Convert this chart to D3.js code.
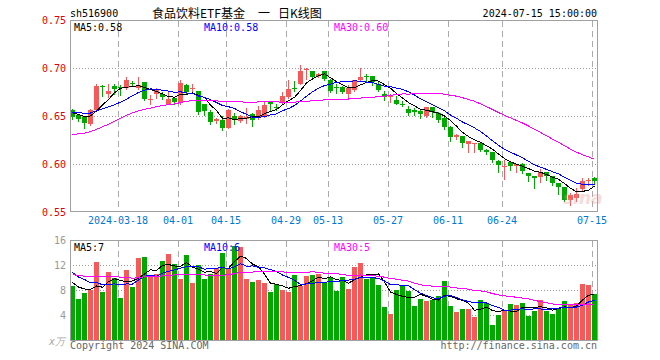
<!DOCTYPE html>
<html>
<head>
<meta charset="utf-8">
<script src="https://cdn.jsdelivr.net/npm/d3@7"></script>
<style>
body { margin: 0; background: #fff; }
svg { display: block; }
text { font-family: "DejaVu Sans Mono", "Liberation Mono", monospace; font-size: 10px; }
</style>
</head>
<body>
<svg id="chart" width="660" height="360"></svg>
<script>

var dates = [
  "2024-03-06","2024-03-07","2024-03-08","2024-03-11","2024-03-12","2024-03-13","2024-03-14","2024-03-15",
  "2024-03-18","2024-03-19","2024-03-20","2024-03-21","2024-03-22","2024-03-25","2024-03-26","2024-03-27",
  "2024-03-28","2024-03-29","2024-04-01","2024-04-02","2024-04-03","2024-04-08","2024-04-09","2024-04-10",
  "2024-04-11","2024-04-12","2024-04-15","2024-04-16","2024-04-17","2024-04-18","2024-04-19","2024-04-22",
  "2024-04-23","2024-04-24","2024-04-25","2024-04-26","2024-04-29","2024-04-30","2024-05-06","2024-05-07",
  "2024-05-08","2024-05-09","2024-05-10","2024-05-13","2024-05-14","2024-05-15","2024-05-16","2024-05-17",
  "2024-05-20","2024-05-21","2024-05-22","2024-05-23","2024-05-24","2024-05-27","2024-05-28","2024-05-29",
  "2024-05-30","2024-05-31","2024-06-03","2024-06-04","2024-06-05","2024-06-06","2024-06-07","2024-06-11",
  "2024-06-12","2024-06-13","2024-06-14","2024-06-17","2024-06-18","2024-06-19","2024-06-20","2024-06-21",
  "2024-06-24","2024-06-25","2024-06-26","2024-06-27","2024-06-28","2024-07-01","2024-07-02","2024-07-03",
  "2024-07-04","2024-07-05","2024-07-08","2024-07-09","2024-07-10","2024-07-11","2024-07-12","2024-07-15"
];

var open = [
  .656,.651,.649,.642,.656,.681,.673,.681,.680,.679,.684,.679,.685,.667,.673,.673,
  .663,.669,.664,.682,.678,.676,.662,.654,.645,.646,.638,.650,.645,.647,.652,.648,
  .650,.665,.659,.665,.670,.679,.683,.698,.697,.692,.697,.688,.680,.680,.673,.677,
  .688,.692,.692,.683,.673,.670,.667,.663,.657,.656,.655,.650,.659,.653,.648,.639,
  .628,.629,.621,.621,.622,.615,.612,.603,.597,.602,.598,.600,.591,.587,.586,.592,
  .588,.580,.576,.562,.565,.574,.582,.585
];
var high = [
  .657,.652,.650,.657,.683,.682,.683,.683,.682,.691,.686,.691,.685,.672,.679,.675,
  .675,.670,.688,.683,.683,.676,.663,.656,.648,.650,.657,.653,.651,.658,.653,.660,
  .665,.665,.663,.675,.687,.686,.703,.700,.697,.695,.697,.689,.683,.681,.682,.688,
  .700,.694,.692,.685,.676,.673,.671,.666,.660,.658,.656,.659,.659,.654,.649,.640,
  .631,.629,.624,.622,.623,.616,.612,.604,.604,.602,.600,.601,.591,.587,.595,.592,
  .588,.580,.576,.570,.575,.585,.585,.586
];
var low = [
  .647,.645,.638,.641,.655,.671,.670,.673,.672,.678,.681,.678,.667,.663,.669,.668,
  .662,.662,.663,.674,.674,.652,.651,.642,.643,.635,.637,.642,.644,.643,.640,.647,
  .649,.655,.656,.664,.669,.676,.683,.689,.691,.691,.687,.675,.674,.674,.670,.676,
  .687,.686,.682,.676,.667,.665,.662,.660,.651,.651,.648,.649,.649,.644,.636,.624,
  .626,.618,.612,.612,.614,.610,.602,.592,.584,.594,.592,.591,.582,.575,.581,.583,
  .578,.569,.561,.557,.561,.573,.578,.579
];
var close = [
  .649,.647,.643,.656,.681,.680,.676,.678,.679,.687,.683,.682,.668,.668,.677,.670,
  .668,.665,.684,.675,.679,.654,.655,.644,.647,.638,.656,.646,.650,.649,.646,.656,
  .661,.662,.658,.671,.678,.678,.697,.699,.691,.694,.689,.676,.679,.675,.679,.688,
  .691,.691,.685,.677,.670,.672,.663,.662,.653,.654,.652,.659,.654,.646,.639,.628,
  .630,.622,.624,.622,.615,.612,.604,.599,.598,.598,.600,.593,.587,.585,.592,.588,
  .580,.576,.562,.568,.569,.582,.583,.582
];
// 万
var volume = [
  8.64,6.56,7.52,8.00,12.48,7.68,10.88,9.97,6.72,11.20,8.48,13.12,13.28,10.08,10.60,12.64,
  13.76,12.16,9.76,13.60,9.12,12.00,9.76,10.56,11.52,13.92,11.60,15.10,14.90,9.76,9.33,9.60,
  9.12,7.68,8.90,8.00,7.68,10.40,8.70,10.24,10.40,10.56,9.12,10.13,7.89,10.13,8.21,11.73,
  12.37,9.81,10.13,8.80,5.33,4.21,8.00,8.59,7.89,5.49,6.61,6.29,6.45,7.09,9.49,5.49,
  4.53,5.01,5.01,3.73,6.45,5.97,2.45,4.05,4.85,5.81,5.65,5.97,3.89,4.69,6.45,4.69,
  4.16,5.01,6.29,5.65,5.97,9.01,8.85,7.41
];

// sessions before the window, only feed the moving averages
var earlierClose = [
  .612,.620,.615,.608,.600,.596,.590,.582,.594,.606,.618,.622,.628,.632,.636,.640,
  .644,.638,.642,.646,.650,.654,.652,.658,.660,.656,.654,.653,.655
];
var earlierVolume = [
  9.8,11.5,10.6,8.9,12.3,9.4,10.1,8.7,11.8,13.2,10.4,9.1,8.6,10.9,9.5,11.2,
  10.0,9.6,10.3,9.4,13.8,11.6,12.9,12.2,11.5,10.2,9.1,8.4,9.7
];

var priceTicks = [0.75, 0.70, 0.65, 0.60, 0.55];
var priceGrid = [0.70, 0.65, 0.60];
var volTicks = [16, 12, 8, 4];
var volGrid = [12, 8, 4];
var tickDates = ["2024-03-18","2024-04-01","2024-04-15","2024-04-29","2024-05-13","2024-05-27","2024-06-11","2024-06-24","2024-07-15"];
var tickLabels = ["2024-03-18","04-01","04-15","04-29","05-13","05-27","06-11","06-24","07-15"];

var maDays = [5, 10, 30];
var maColors = ["#000000", "#0000ff", "#ff00ff"];

var RED = "#f65959", GREEN = "#00a800", FRAME = "#a0a0a0";

function movingAvg(prev, vals, n) {
    var all = prev.concat(vals);
    return vals.map(function(v, i){
        var j = prev.length + i;
        return d3.sum(all.slice(j - n + 1, j + 1)) / n;
    });
}

var svg = d3.select("#chart");
var left = 70, right = 597;

var x = d3.scaleBand().domain(dates).range([left, left + 6 * dates.length]).paddingInner(0);
var bw = 5;
function cx(d){ return x(d) + 2.5; }

var yP = d3.scaleLinear().domain([0.55, 0.75]).range([212, 20]);
var yV = d3.scaleLinear().domain([0, 16]).range([340, 240]);

// ---------- grids ----------
function drawGrid(g, ys, top, bottom) {
    g.selectAll("line.h").data(ys).enter().append("line")
        .attr("x1", left).attr("x2", right)
        .attr("y1", function(d){ return Math.round(d) + 0.5; })
        .attr("y2", function(d){ return Math.round(d) + 0.5; })
        .style("stroke", "#999").style("stroke-dasharray", "1,2");

    g.selectAll("line.v").data(tickDates).enter().append("line")
        .attr("x1", function(d){ return x(d) + 0.5; })
        .attr("x2", function(d){ return x(d) + 0.5; })
        .attr("y1", top).attr("y2", bottom)
        .style("stroke", "#aaa").style("stroke-dasharray", "6,4");
}

var gridP = svg.append("g").attr("shape-rendering", "crispEdges");
drawGrid(gridP, priceGrid.map(yP), 21, 211);
var gridV = svg.append("g").attr("shape-rendering", "crispEdges");
drawGrid(gridV, volGrid.map(yV), 241, 340);

// ---------- candles ----------
var candles = svg.append("g").attr("shape-rendering", "crispEdges");
dates.forEach(function(d, i){
    var up = close[i] >= open[i];
    var col = up ? RED : GREEN;
    candles.append("line")
        .attr("x1", cx(d)).attr("x2", cx(d))
        .attr("y1", Math.round(yP(high[i]))).attr("y2", Math.round(yP(low[i])) + 1)
        .style("stroke", col);
    var yTop = Math.round(yP(Math.max(open[i], close[i])));
    var yBot = Math.round(yP(Math.min(open[i], close[i])));
    candles.append("rect")
        .attr("x", x(d)).attr("width", bw)
        .attr("y", yTop).attr("height", Math.max(1, yBot - yTop))
        .style("fill", col);
});

// ---------- volume bars ----------
svg.append("g").attr("shape-rendering", "crispEdges")
    .selectAll("rect").data(dates).enter().append("rect")
    .attr("x", function(d){ return x(d); })
    .attr("width", bw)
    .attr("y", function(d, i){ return Math.round(yV(volume[i])); })
    .attr("height", function(d, i){ return 340 - Math.round(yV(volume[i])); })
    .style("fill", function(d, i){ return close[i] >= open[i] ? RED : GREEN; });

// watermark
svg.append("text").attr("x", 563).attr("y", 204)
    .text("sina")
    .style("font-family", "DejaVu Sans").style("font-size", "17px")
    .style("font-style", "italic").style("font-weight", "bold")
    .style("fill", "#e89a9a").style("opacity", 0.35);

// ---------- moving averages ----------
var priceMA = maDays.map(function(n){ return movingAvg(earlierClose, close, n); });
var volMA = maDays.map(function(n){ return movingAvg(earlierVolume, volume, n); });

function drawLines(series, y) {
    series.forEach(function(vals, k){
        var line = d3.line()
            .x(function(v, i){ return cx(dates[i]); })
            .y(function(v){ return y(v); });
        svg.append("path")
            .attr("d", line(vals))
            .attr("shape-rendering", "crispEdges")
            .style("stroke", maColors[k])
            .style("stroke-width", 1)
            .style("fill", "none");
    });
}
drawLines(priceMA, yP);
drawLines(volMA, yV);

// ---------- frames ----------
svg.append("rect").attr("x", left + 0.5).attr("y", 20.5)
    .attr("width", right - left).attr("height", 191)
    .style("fill", "none").style("stroke", FRAME).attr("shape-rendering", "crispEdges");
svg.append("rect").attr("x", left + 0.5).attr("y", 240.5)
    .attr("width", right - left).attr("height", 100)
    .style("fill", "none").style("stroke", FRAME).attr("shape-rendering", "crispEdges");

// ---------- axes ----------
var axP = svg.append("g").attr("transform", "translate(" + left + ",0)")
    .call(d3.axisLeft(yP).tickValues(priceTicks).tickFormat(d3.format(".2f")).tickSize(0).tickPadding(4));
axP.select(".domain").remove();
axP.selectAll("text").style("fill", "#e00000").style("font-family", "DejaVu Sans Mono").style("font-size", "10px");

var axV = svg.append("g").attr("transform", "translate(" + left + ",0)")
    .call(d3.axisLeft(yV).tickValues(volTicks).tickSize(0).tickPadding(4));
axV.select(".domain").remove();
axV.selectAll("text").style("fill", "#999").style("font-family", "DejaVu Sans Mono").style("font-size", "10px");

var axX = svg.append("g").attr("transform", "translate(" + (-x.bandwidth() / 2) + ",212)")
    .call(d3.axisBottom(x).tickValues(tickDates)
        .tickFormat(function(d){ return tickLabels[tickDates.indexOf(d)]; })
        .tickSize(0).tickPadding(5));
axX.select(".domain").remove();
axX.selectAll("text").style("fill", "#0078d7").style("font-family", "DejaVu Sans Mono").style("font-size", "10px");

// ---------- texts ----------
svg.append("text").attr("x", 70).attr("y", 17).text("sh516900").style("fill", "#000");

var title = svg.append("text").attr("y", 18)
    .style("font-family", "Noto Sans CJK SC").style("font-size", "12px").style("fill", "#000");
title.append("tspan").attr("x", 152).text("食品饮料ETF基金");
title.append("tspan").attr("x", 258).text("一");
title.append("tspan").attr("x", 278).text("日K线图");

svg.append("text").attr("x", right).attr("y", 17).attr("text-anchor", "end")
    .text("2024-07-15 15:00:00").style("fill", "#000");

var last = dates.length - 1;
maDays.forEach(function(n, k){
    svg.append("text").attr("x", 74 + 130 * k).attr("y", 31)
        .text("MA" + n + ":" + d3.format(".2f")(priceMA[k][last]))
        .style("fill", maColors[k]);
    svg.append("text").attr("x", 74 + 130 * k).attr("y", 251)
        .text("MA" + n + ":" + Math.floor(volMA[k][last]))
        .style("fill", maColors[k]);
});

svg.append("text").attr("x", 49).attr("y", 345).text("x万")
    .style("fill", "#aaa").style("font-style", "italic");
svg.append("text").attr("x", 70).attr("y", 349).text("Copyright 2024 SINA.COM").style("fill", "#666");
svg.append("text").attr("x", right).attr("y", 349).attr("text-anchor", "end")
    .text("http://finance.sina.com.cn").style("fill", "#666");

</script>
</body>
</html>
